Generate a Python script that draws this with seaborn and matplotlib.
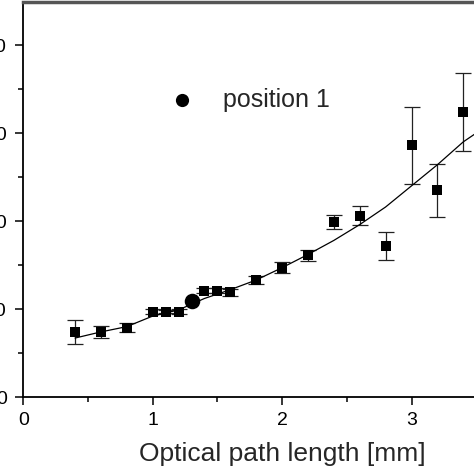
import numpy as np
import pandas as pd
import matplotlib
matplotlib.use('Agg')
import matplotlib.pyplot as plt
import seaborn as sns

# measured points (optical path length in mm, signal)
path_mm = [0.4, 0.6, 0.8, 1.0, 1.1, 1.2, 1.4, 1.5, 1.6, 1.8, 2.0, 2.2, 2.4, 2.6, 2.8, 3.0, 3.2, 3.4]
signal = [7.4, 7.4, 7.9, 9.7, 9.7, 9.7, 12.1, 12.1, 11.9, 13.3, 14.7, 16.1, 19.9, 20.6, 17.2, 28.6, 23.5, 32.4]
signal_err = [1.4, 0.7, 0.5, 0.3, 0.2, 0.3, 0.3, 0.3, 0.4, 0.5, 0.6, 0.6, 0.8, 1.1, 1.6, 4.4, 3.0, 4.4]

# fit curve
fit_x = [0.4, 0.6, 0.8, 1.0, 1.2, 1.4, 1.6, 1.8, 2.0, 2.2, 2.4, 2.6, 2.8, 3.0, 3.2, 3.4, 3.5]
fit_y = [6.7, 7.4, 8.0, 9.2, 9.9, 11.2, 12.2, 13.3, 14.7, 16.2, 17.8, 19.6, 21.6, 24.0, 26.4, 29.0, 30.0]

# position 1 marker
pos1_x = [1.3]
pos1_y = [10.9]

y_ticks = [0, 10, 20, 30, 40]
x_ticks = [0, 1, 2, 3]

df = pd.DataFrame({'path': path_mm, 'signal': signal, 'err': signal_err})
fit = pd.DataFrame({'path': fit_x, 'signal': fit_y})
pos1 = pd.DataFrame({'path': pos1_x, 'signal': pos1_y})

sns.set_theme(style='ticks')
plt.rcParams['font.family'] = ['Liberation Sans', 'DejaVu Sans']

fig = plt.figure(figsize=(4.74, 4.74), dpi=100)
ax = fig.add_axes([23.3 / 474, 77 / 474, 4 * 129.4 / 474, 395 / 474])

ax.errorbar(df['path'], df['signal'], yerr=df['err'], fmt='none',
            ecolor='#222222', elinewidth=0.9, capsize=5.5, capthick=0.9, zorder=2)
sns.lineplot(data=fit, x='path', y='signal', color='black', linewidth=0.9, ax=ax, zorder=3)
sns.scatterplot(data=df, x='path', y='signal', marker='s', s=50, color='black',
                edgecolor='black', linewidth=0, ax=ax, zorder=4)
sns.scatterplot(data=pos1, x='path', y='signal', marker='o', s=125, color='black',
                edgecolor='black', linewidth=0, label='position 1', ax=ax, zorder=5)

ax.set_xlim(0, 4)
ax.set_ylim(0, 44.9)
ax.set_xticks(x_ticks)
ax.set_yticks(y_ticks)
ax.set_xticks([0.5, 1.5, 2.5, 3.5], minor=True)
ax.set_yticks([5, 15, 25, 35], minor=True)
ax.tick_params(axis='both', which='major', direction='out', length=6, width=1.1,
               labelsize=14, color='black', labelcolor='black')
ax.tick_params(axis='both', which='minor', direction='out', length=3.5, width=1.1, color='black')
ax.tick_params(axis='y', pad=6)
ax.tick_params(axis='x', pad=5)

ax.set_xlabel('Optical path length [mm]', fontsize=19, labelpad=9)
ax.set_ylabel('')

for side in ['left', 'bottom']:
    ax.spines[side].set_color('black')
    ax.spines[side].set_linewidth(1.3)
ax.spines['top'].set_color('#555555')
ax.spines['top'].set_linewidth(2.5)
ax.spines['right'].set_visible(False)

ax.legend(loc='center left', bbox_to_anchor=(169.6 / 474, 374 / 474),
          bbox_transform=fig.transFigure, frameon=False, fontsize=18,
          handlelength=1.0, handletextpad=1.15, borderpad=0, borderaxespad=0,
          markerscale=0.85)

fig.savefig('out.png', dpi=100)
